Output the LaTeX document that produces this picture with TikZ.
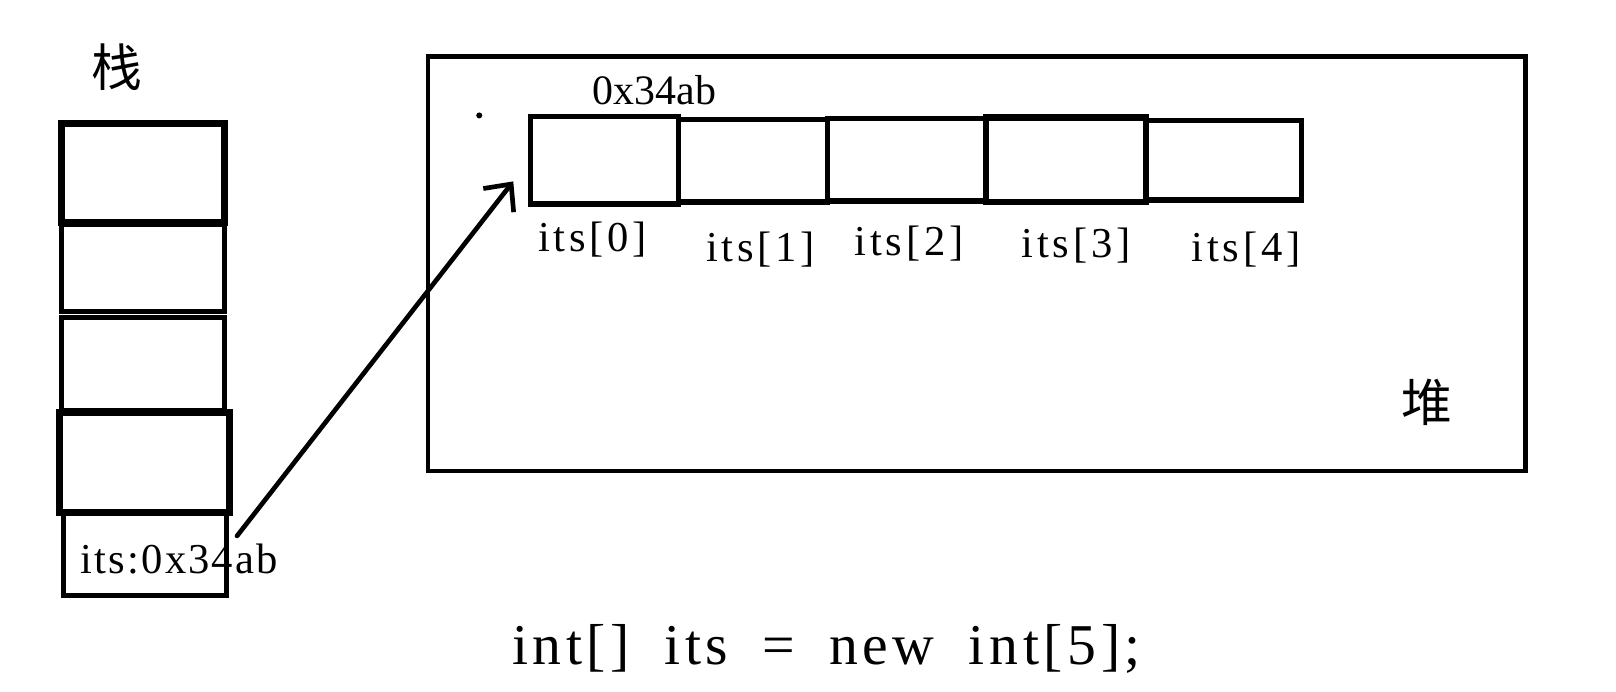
\documentclass[tikz,border=0pt]{standalone}
\usepackage{fontspec}
\setmainfont{Liberation Serif}
\newfontfamily\cjk{Noto Sans CJK SC}
\newfontfamily\codefont[LetterSpace=8,WordSpace=1.8]{Liberation Serif}
\usetikzlibrary{arrows.meta}
\tikzset{
  cell/.style={draw=black, inner sep=0pt, minimum width=#1},
  lbl/.style={inner sep=0pt, anchor=base, font=\fontsize{31pt}{33pt}\selectfont\addfontfeature{LetterSpace=9}},
  hanzi/.style={inner sep=0pt, font=\cjk\fontsize{37pt}{39pt}\selectfont},
}
\begin{document}
\begin{tikzpicture}[x=0.75pt,y=-0.75pt]
\useasboundingbox (0,0) rectangle (1568,670.5);
% stack
\node[cell=118.5pt, minimum height=72pt, line width=5.25pt] (s1) at (139,168) {};
\node[cell=118.5pt, minimum height=63pt, line width=3.75pt] (s2) at (139,260) {};
\node[cell=118.5pt, minimum height=67.5pt, line width=3.75pt] (s3) at (139,353) {};
\node[cell=123.75pt, minimum height=72.75pt, line width=5.25pt] (s4) at (140,449) {};
\node[cell=118.5pt, minimum height=60pt, line width=3.75pt] (s5) at (141,538) {};
\node[hanzi] (zhan) at (113,65) {栈};
\node[inner sep=0pt, anchor=base, font=\fontsize{31pt}{33pt}\selectfont\addfontfeature{LetterSpace=5}] (sval) at (174,556) {its:0x34ab};
% heap
\node[cell=798.75pt, minimum height=301.5pt, line width=3.2pt] (heap) at (947.5,256) {};
\node[hanzi] (dui) at (1385,390) {堆};
\fill (465,112) circle (2.2pt);
% array
\node[cell=107.25pt, minimum height=63.75pt, line width=3.75pt] (a0) at (586.5,155.5) {};
\node[cell=108.75pt, minimum height=60pt, line width=3.75pt] (a1) at (730.5,156) {};
\node[cell=115.5pt, minimum height=60pt, line width=3.75pt] (a2) at (880,155) {};
\node[cell=116.25pt, minimum height=61.5pt, line width=4.5pt] (a3) at (1034.5,155) {};
\node[cell=113.25pt, minimum height=57.75pt, line width=3.75pt] (a4) at (1187.5,155.5) {};
\node[inner sep=0pt, anchor=base, font=\fontsize{30.5pt}{32pt}\selectfont] (addr) at (635,101) {0x34ab};
\node[lbl] (l0) at (575,244) {its[0]};
\node[lbl] (l1) at (738,254) {its[1]};
\node[lbl] (l2) at (882,248) {its[2]};
\node[lbl] (l3) at (1044,250) {its[3]};
\node[lbl] (l4) at (1209,254) {its[4]};
% pointer arrow
\coordinate (tail) at (230,520);
\coordinate (tip) at (498,176);
\draw[line width=3.4pt, line cap=round, -{Straight Barb[length=15pt, width=28pt, line width=3.4pt]}] (tail) -- (tip);
% code
\node[inner sep=0pt, anchor=base, font=\codefont\fontsize{42pt}{44pt}\selectfont] (code) at (802,645) {int[] its = new int[5];};
\end{tikzpicture}
\end{document}
